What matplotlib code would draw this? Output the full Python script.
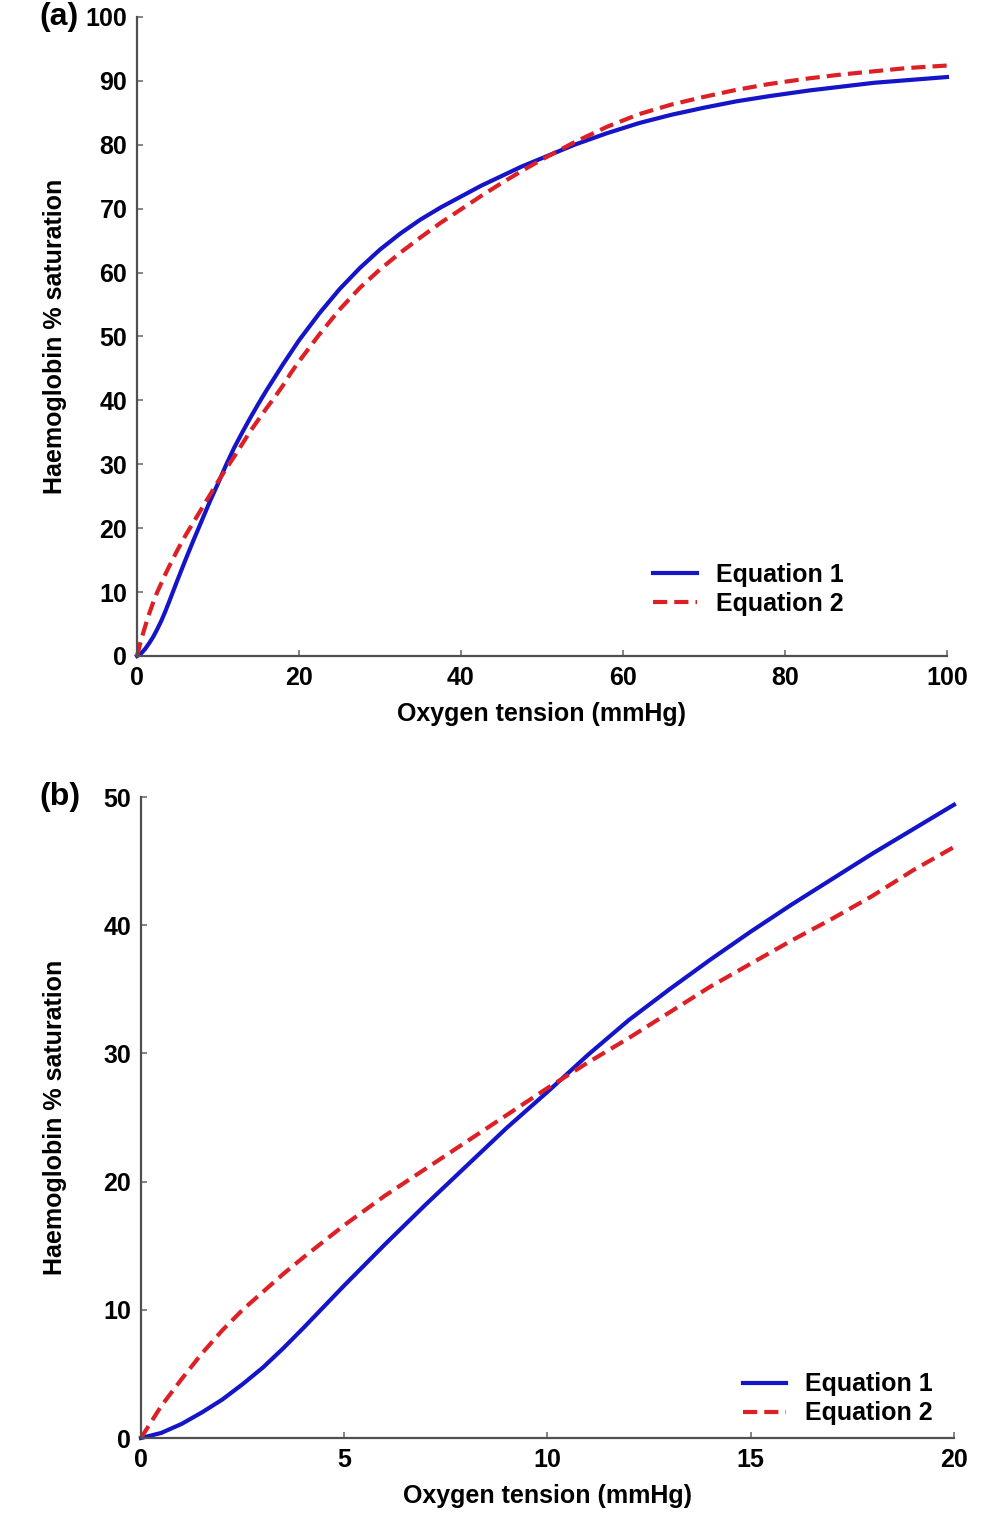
import numpy as np
import matplotlib.pyplot as plt

plt.rcParams['font.family'] = ['Liberation Sans', 'DejaVu Sans']
plt.rcParams['font.weight'] = 'bold'

# low range (0-20 mmHg) (b) and reused in panel (a)
x_lo = [0, 0.5, 1, 1.5, 2, 2.5, 3, 3.5, 4, 5, 6, 7, 8, 9, 10, 11, 12, 13, 14, 15, 16, 17, 18, 19, 20]
eq1_lo = [0, 0.4, 1.1, 2.0, 3.0, 4.2, 5.5, 7.0, 8.6, 11.9, 15.1, 18.2, 21.2, 24.2, 27.0, 29.9,
          32.6, 35.0, 37.3, 39.5, 41.6, 43.6, 45.6, 47.5, 49.4]
eq2_lo = [0, 2.5, 4.6, 6.6, 8.4, 10.0, 11.4, 12.8, 14.1, 16.6, 18.9, 21.0, 23.1, 25.2, 27.3, 29.3,
          31.2, 33.2, 35.2, 37.0, 38.8, 40.5, 42.3, 44.3, 46.1]

# high range (20-100 mmHg)
x_hi = [22.5, 25, 27.5, 30, 32.5, 35, 37.5, 40, 42.5, 45, 47.5, 50, 54, 58, 62, 66, 70, 74, 78,
        83, 87, 91, 95, 100]
eq1_hi = [53.6, 57.4, 60.7, 63.6, 66.1, 68.3, 70.2, 71.9, 73.6, 75.1, 76.6, 77.9, 80.0, 81.8,
          83.4, 84.7, 85.8, 86.8, 87.6, 88.5, 89.1, 89.7, 90.1, 90.6]
eq2_hi = [50.3, 54.2, 57.6, 60.5, 63.1, 65.5, 67.8, 69.9, 72.0, 74.0, 75.9, 77.7, 80.4, 82.8,
          84.8, 86.3, 87.5, 88.6, 89.5, 90.4, 91.0, 91.5, 92.0, 92.4]

labels = ['Equation 1', 'Equation 2']
blue = '#1414c8'
red = '#dc2026'
fs = 18

fig = plt.figure(figsize=(9.85, 15.15), dpi=100)
ax1 = fig.add_axes([0.1391, 0.5670, 0.8223, 0.4218])
ax2 = fig.add_axes([0.1431, 0.0508, 0.8254, 0.4231])


def style(ax, xt, yt, xlim, ylim, ylab_x):
    ax.set_xlim(xlim)
    ax.set_ylim(ylim)
    ax.set_xticks(xt)
    ax.set_yticks(yt)
    for s in ['top', 'right']:
        ax.spines[s].set_visible(False)
    for s in ['left', 'bottom']:
        ax.spines[s].set_color('#505050')
        ax.spines[s].set_linewidth(1.6)
    ax.tick_params(direction='in', length=4, width=1.2, color='#707070',
                   labelsize=fs, pad=7)
    for lab in ax.get_xticklabels() + ax.get_yticklabels():
        lab.set_fontweight('bold')
    ax.set_xlabel('Oxygen tension (mmHg)', fontsize=fs, fontweight='bold', labelpad=9)
    ax.set_ylabel('Haemoglobin % saturation', fontsize=fs, fontweight='bold')
    ax.yaxis.set_label_coords(ylab_x, 0.5)


ax1.plot(x_lo + x_hi, eq1_lo + eq1_hi, color=blue, lw=3, label=labels[0], clip_on=False)
ax1.plot(x_lo + x_hi, eq2_lo + eq2_hi, color=red, lw=3, ls=(0, (3.4, 1.7)), label=labels[1],
         clip_on=False)
style(ax1, np.arange(0, 101, 20), np.arange(0, 101, 10), (0, 100), (0, 100), -0.087)
ax1.legend(loc='center', bbox_to_anchor=(0.755, 0.104), frameon=False,
           handlelength=1.75, handletextpad=0.75, labelspacing=0.2,
           prop={'weight': 'bold', 'size': fs})

ax2.plot(x_lo, eq1_lo, color=blue, lw=3, label=labels[0], clip_on=False)
ax2.plot(x_lo, eq2_lo, color=red, lw=3, ls=(0, (3.4, 1.7)), label=labels[1], clip_on=False)
style(ax2, np.arange(0, 21, 5), np.arange(0, 51, 10), (0, 20), (0, 50), -0.091)
ax2.legend(loc='center', bbox_to_anchor=(0.857, 0.061), frameon=False,
           handlelength=1.75, handletextpad=0.75, labelspacing=0.2,
           prop={'weight': 'bold', 'size': fs})

fig.text(0.040, 0.989, '(a)', fontsize=23, fontweight='bold', va='center', ha='left')
fig.text(0.040, 0.474, '(b)', fontsize=23, fontweight='bold', va='center', ha='left')

fig.savefig('out.png', dpi=100)
